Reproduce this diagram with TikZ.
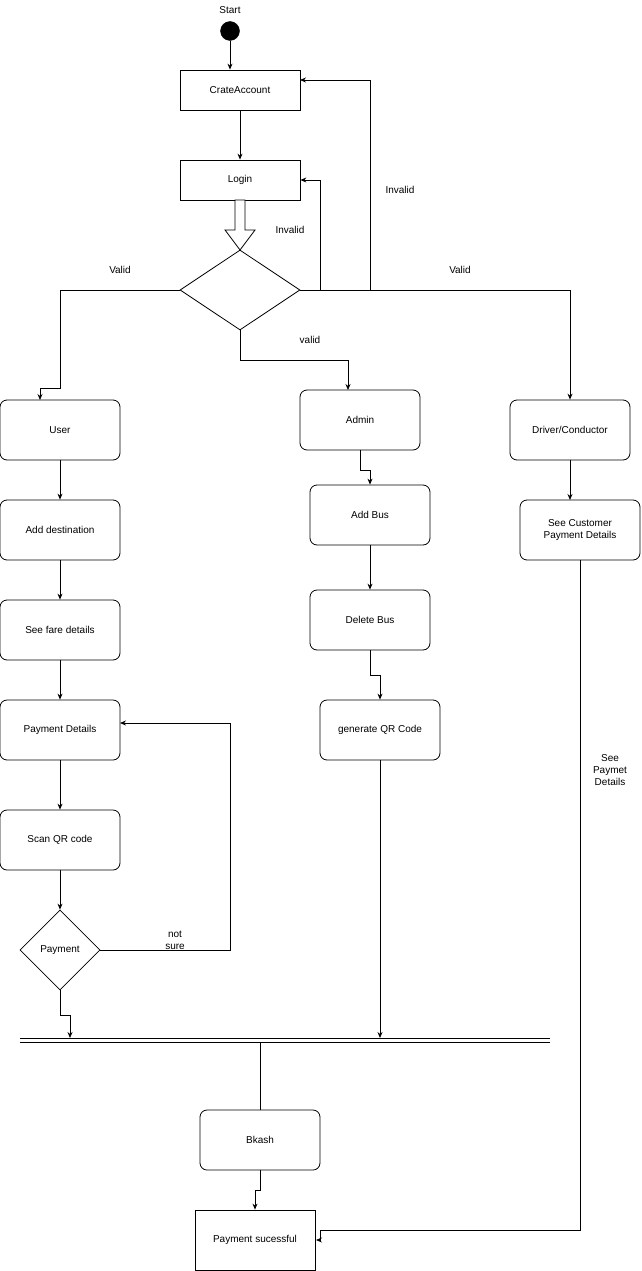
\documentclass[tikz,border=0pt]{standalone}
\usepackage{fontspec}
\setmainfont{Liberation Sans}
\usetikzlibrary{arrows.meta,shapes.geometric}
\begin{document}
\begin{tikzpicture}[x=1pt,y=-1pt,font=\fontsize{10}{12}\selectfont,
  box/.style={draw,thick,minimum width=120pt,minimum height=60pt,rounded corners=7pt,inner sep=0pt,align=center,line width=0.8pt},
  sbox/.style={draw,minimum width=120pt,minimum height=40pt,inner sep=0pt,line width=0.8pt},
  dia/.style={draw,diamond,aspect=1.5,inner sep=0pt,line width=0.8pt},
  ar/.style={-{Stealth[length=6pt,width=5pt]},line width=0.8pt},
  ln/.style={line width=0.8pt},
  lab/.style={align=center,inner sep=0pt}]
\useasboundingbox (0,0) rectangle (641,1271);
\node[lab] at (230,10) {Start};
\node[circle,fill=black,draw,minimum size=19pt,inner sep=0pt] (st) at (230,31) {};
\node[sbox] (ca) at (240,90) {CrateAccount};
\node[sbox] (lg) at (240,180) {Login};
\node[draw,line width=0.8pt,minimum width=120pt,minimum height=80pt,diamond,inner sep=0pt,aspect=1.5] (d1) at (240,290) {};
\node[box] (us) at (60,430) {User};
\node[box] (ad) at (60,530) {Add destination};
\node[box] (sf) at (60,630) {See fare details};
\node[box] (pd) at (60,730) {Payment Details};
\node[box] (sq) at (60,840) {Scan QR code};
\node[dia,minimum width=80pt,minimum height=80pt,aspect=1] (pay) at (60,950) {Payment};
\node[box] (adm) at (360,420) {Admin};
\node[box] (ab) at (370,515) {Add Bus};
\node[box] (db) at (370,620) {Delete Bus};
\node[box] (gq) at (380,730) {generate QR Code};
\node[box] (dc) at (570,430) {Driver/Conductor};
\node[box] (scp) at (580,530) {See Customer\\Payment Details};
\node[box] (bk) at (260,1140) {Bkash};
\node[draw,line width=0.8pt,minimum width=120pt,minimum height=60pt,inner sep=0pt] (ps) at (255,1240) {Payment sucessful};
% bar
\draw[ln] (20,1038) -- (550,1038);
\draw[ln] (20,1042) -- (550,1042);
% connectors
\draw[ar] (st) -- (ca.north -| st);
\draw[ar] (ca) -- (lg);
\draw[line width=0.8pt,fill=white] (235,200) -- (245,200) -- (245,230) -- (255,230) -- (240,250) -- (225,230) -- (235,230) -- cycle;
\draw[ar] (d1.east) -- (570,290) -- (dc.north);
\draw[ar] (320,290) -- (320,180) -- (lg.east);
\draw[ar] (370,290) -- (370,80) -- (300,80);
\draw[ar] (d1.west) -- (60,290) -- (60,388) -- (40,388) -- (40,400);
\draw[ar] (d1.south) -- (240,360) -- (348,360) -- (348,390);
\draw[ar] (us) -- (ad);
\draw[ar] (ad) -- (sf);
\draw[ar] (sf) -- (pd);
\draw[ar] (pd) -- (sq);
\draw[ar] (sq) -- (pay);
\draw[ar] (pay.east) -- (230,950) -- (230,723) -- (120,723);
\draw[ar] (pay.south) -- (60,1015) -- (70,1015) -- (70,1038);
\draw[ar] (360,450) -- (360,470) -- (370,470) -- (ab.north);
\draw[ar] (ab) -- (db);
\draw[ar] (370,650) -- (370,675) -- (380,675) -- (gq.north);
\draw[ar] (gq.south) -- (380,1038);
\draw[ar] (dc) -- (570,500);
\draw[ar] (580,560) -- (580,1230) -- (320,1230) -- (320,1240) -- (316,1240);
\draw[ln] (260,1042) -- (bk.north);
\draw[ar] (bk.south) -- (260,1190) -- (255,1190) -- (ps.north);
% labels
\node[lab] at (460,270) {Valid};
\node[lab] at (290,230) {Invalid};
\node[lab] at (400,190) {Invalid};
\node[lab] at (120,270) {Valid};
\node[lab] at (310,340) {valid};
\node[lab] at (175,940) {not\\sure};
\node[lab] at (610,770) {See\\Paymet\\Details};
\end{tikzpicture}
\end{document}
